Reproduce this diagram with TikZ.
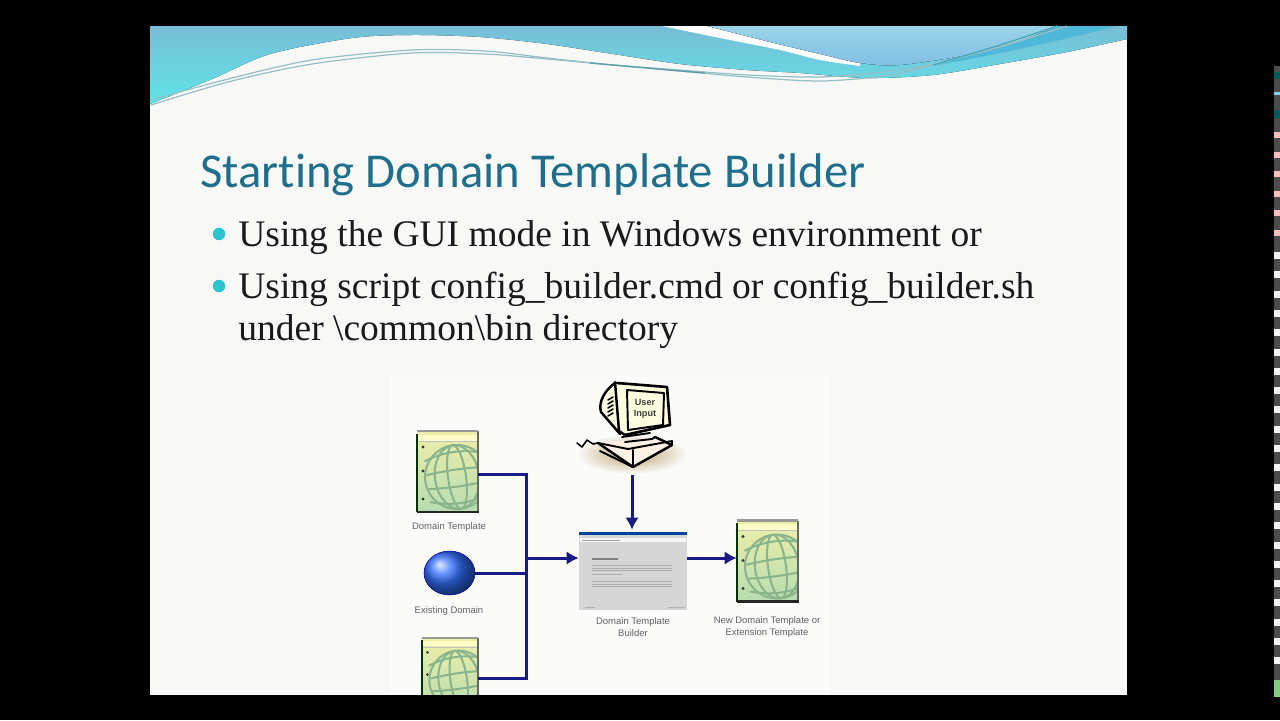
\documentclass[tikz,border=0pt]{standalone}
\usepackage{fontspec}
\usetikzlibrary{arrows.meta,shapes.geometric}
\setmainfont{Liberation Serif}
\newfontfamily\titlefont[RawFeature=-liga]{Carlito}
\newfontfamily\labelfont{Liberation Sans}
\definecolor{slidebg}{HTML}{F8F9F7}
\definecolor{wirenavy}{HTML}{1A1A86}
\definecolor{titleteal}{HTML}{1F6E8C}
\definecolor{bulletcyan}{HTML}{2CC4D0}
\definecolor{bodyink}{HTML}{1A1A1A}
\definecolor{globegreen}{HTML}{8AB48C}
\definecolor{bannertop}{HTML}{78BED6}
\definecolor{bannerlow}{HTML}{5FE4EA}
\definecolor{skytop}{HTML}{9AD4E8}
\definecolor{skylow}{HTML}{80BEE4}
\definecolor{bandblue}{HTML}{4FB8D8}
\definecolor{threadpale}{HTML}{96BEC6}
\definecolor{threaddark}{HTML}{5A9CA8}
\definecolor{threadteal}{HTML}{3AA6B8}
\definecolor{pageyellow}{HTML}{EEEFA8}
\definecolor{pagegreen}{HTML}{B6DCB2}
\definecolor{shadowtan}{HTML}{BDA270}
\tikzset{
  titletext/.style={anchor=base west,inner sep=0,text=titleteal,font=\titlefont\fontsize{27.7}{32}\selectfont},
  bodytext/.style={anchor=base west,inner sep=0,text=bodyink,font=\fontsize{21.35}{25}\selectfont},
  smalltext/.style={inner sep=0,align=center,text=black!62,font=\labelfont\fontsize{5.4}{6.8}\selectfont},
  bulletdot/.style={circle,fill=bulletcyan,inner sep=0,minimum size=0.25cm},
  wire/.style={draw=wirenavy,line width=1.7pt},
  wirearrow/.style={wire,-{Latex[length=0.24cm,width=0.27cm]}},
  sketch/.style={black,line width=1.1pt,line cap=round,line join=round},
  thread/.style={draw=threadpale,line width=0.7pt},
}
% page with globe, centre at #2,#3, scaled by #4
\newcommand{\globedoc}[4]{%
  \node[inner sep=0,minimum width=#4*1.22cm,minimum height=#4*1.62cm,top color=pageyellow,bottom color=pagegreen] (#1) at (#2,#3) {};
  \begin{scope}[shift={(#2,#3)},scale=#4]
    \fill[yellow!22!white] (-30.5,-37) rectangle (30.5,-31);
    \draw[black!25,line width=0.4pt] (-30.5,-30.5)--(30.5,-30.5);
    \begin{scope}
      \clip (-30.5,-40.5) rectangle (30.5,40.5);
      \begin{scope}[shift={(9.5,5.5)},rotate=8,globegreen,line width=1.15pt]
        \draw (0,0) circle (32);
        \draw (0,0) ellipse (22 and 32);
        \draw (0,0) ellipse (9 and 32);
        \foreach \yy/\bend in {-20/-7,-6/-2,8/2,21/7}
          \draw (-30,\yy) .. controls (-10,\yy+\bend) and (10,\yy+\bend) .. (30,\yy);
      \end{scope}
    \end{scope}
    \foreach \yy in {-24.5,-0.5,27.5}
      \fill[black!80] (-24.5,\yy) circle (1.6);
    \draw[black!80!green,line width=1.1pt] (-30.5,-38)--(-30.5,40.5);
    \draw[black!60,line width=0.9pt] (30.5,40.5)--(30.5,-40.5);
    \draw[black!40,line width=1.2pt] (-30.5,-40.5)--(30.5,-40.5);
    \draw[black!85,line width=1.5pt] (-31,40.5)--(31,40.5);
  \end{scope}}

\begin{document}
\begin{tikzpicture}[x=0.02cm,y=-0.02cm]
  \useasboundingbox (0,0) rectangle (1280,720);
  \fill[black] (0,0) rectangle (1280,720);
  \fill[slidebg] (150,26) rectangle (1127,695);
  \fill[white!40!slidebg] (390,375) rectangle (830,695);

  % banner
  \fill[top color=bannertop,bottom color=bannerlow]
    (150,26) -- (150,104) -- plot[smooth] coordinates {(150,104) (212,79) (270,54) (352,38) (412,35) (480,37) (547,44) (613,54) (680,64) (747,70) (800,73) (867,78) (933,75) (1000,64) (1067,52) (1127,39)} -- (1127,26) -- cycle;
  \fill[white] plot[smooth] coordinates {(662,26) (720,38) (780,50) (820,60) (860,66)} -- plot[smooth] coordinates {(860,63) (820,54) (770,42) (707,26)} -- cycle;
  \fill[top color=skytop,bottom color=skylow]
    (707,26) -- plot[smooth] coordinates {(707,26) (770,42) (820,54) (860,63) (900,65) (967,55) (1017,42) (1057,26)} -- cycle;
  \fill[bandblue] plot[smooth] coordinates {(933,66) (1000,53) (1060,40) (1117,26)} -- (1060,26) -- plot[smooth] coordinates {(1060,26) (1017,42) (967,56) (933,66)} -- cycle;
  \draw[thread] plot[smooth] coordinates {(151,105) (228,82) (312,64) (412,53) (485,54) (547,59) (613,65) (680,71) (747,77) (820,81) (883,76) (933,65) (1000,45) (1057,26)};
  \draw[thread] plot[smooth] coordinates {(151,100) (228,79) (312,60) (412,50) (485,51) (547,58) (613,65) (680,70) (747,75) (820,77) (883,72) (933,64) (1000,47) (1067,26)};
  \draw[threaddark,line width=0.7pt] plot[smooth] coordinates {(590,63) (613,65) (680,71) (705,73)};
  \draw[threadteal,line width=0.6pt] plot[smooth] coordinates {(933,65) (1000,45) (1057,26)};

  % text
  \node[titletext] (title) at (200,187) {Starting Domain Template Builder};
  \node[bulletdot] (dotA) at (219,234) {};
  \node[bulletdot] (dotB) at (219,286) {};
  \node[bodytext] (lineA) at (238,246) {Using the GUI mode in Windows environment or};
  \node[bodytext] (lineB) at (238,298) {Using script config\_builder.cmd or config\_builder.sh};
  \node[bodytext] (lineC) at (238,340) {under \textbackslash common\textbackslash bin directory};

  % computer
  \shade[inner color=shadowtan,outer color=white!40!slidebg] (632,454) ellipse (56 and 20);
  \node[inner sep=0,minimum width=2.06cm,minimum height=1.9cm] (computer) at (632,427.5) {};
  \fill[yellow!12!white] (615,383) -- (667,387) -- (670,425) -- (625,435) -- (603,418) -- (600,408) -- (603,395) -- cycle;
  \fill[orange!10!white] (598,443) -- (655,437) -- (672,445) -- (633,467) -- cycle;
  \draw[sketch,line width=1.4pt] (615,382) -- (619,431) -- (625,435) (615,383) .. controls (605,390) and (598,402) .. (601,412) -- (620,434);
  \draw[sketch,line width=1.5pt] (617,383) -- (667,387) -- (670,425) -- (625,435);
  \draw[sketch] (627,390) -- (664,393) -- (663,425) -- (628,430) -- cycle;
  \foreach \yy in {400,404,408,412,416}
    \draw[sketch,line width=0.9pt] (608,\yy) -- (613,\yy-3);
  \draw[sketch] (622,437) -- (650,433) (625,442) -- (652,439) -- (655,437);
  \draw[sketch,line width=1.4pt] (598,443) -- (633,467) -- (672,445) -- (655,437);
  \draw[sketch] (598,443) -- (628,449) -- (672,441) -- (672,445) (600,451) -- (633,467) -- (633,450);
  \draw[sketch,line width=0.9pt] (577,443) -- (582,447) -- (587,440) -- (593,444) -- (598,443);
  \node[inner sep=0,align=center,text=black!75,font=\labelfont\bfseries\fontsize{5.2}{6.2}\selectfont] (userinput) at (645,408.5) {User\\Input};

  % builder window
  \node[inner sep=0,minimum width=2.16cm,minimum height=1.56cm,fill=gray!32!white] (builder) at (633,571) {};
  \fill[blue!55!cyan!60!black] (579,532) rectangle (687,535);
  \fill[white!92!gray] (580,537.5) rectangle (686,542);
  \fill[black!35] (582,539.5) rectangle (620,540.5);
  \fill[black!50] (592,558) rectangle (618,559.5);
  \foreach \yy in {565,567.5,570,581,583.5,586}
    \fill[black!32] (592,\yy) rectangle (672,\yy+1.2);
  \fill[black!32] (592,574) rectangle (622,575.2);
  \fill[black!30] (585,607) rectangle (595,608) (668,607) rectangle (685,608);
  \node[smalltext] (builderlabel) at (633,627) {Domain Template\\Builder};

  % templates
  \globedoc{domaintmpl}{447.5}{471.5}{1}
  \globedoc{thirdtmpl}{450}{675}{0.92}
  \globedoc{newtmpl}{767.5}{561}{1}
  \node[smalltext] (domainlabel) at (449,527) {Domain Template};
  \node[smalltext] (newlabel) at (767,627) {New Domain Template or\\Extension Template};

  % existing domain
  \node[ellipse,inner sep=0,minimum width=1.02cm,minimum height=0.88cm,ball color=blue!70!cyan!80!white,draw=blue!70!black,line width=0.3pt] (existdom) at (449.5,573) {};
  \node[smalltext] (existlabel) at (449,611) {Existing Domain};

  % connectors
  \coordinate (bus) at (526,558);
  \draw[wire] ([yshift=-0.05cm]domaintmpl.east) -| (bus);
  \draw[wire] (existdom.east) -| (bus);
  \draw[wire] ([yshift=-0.06cm]thirdtmpl.east) -| (bus);
  \draw[wirearrow] (bus) -- (bus -| builder.west);
  \draw[wirearrow] (bus -| builder.east) -- (bus -| newtmpl.west);
  \draw[wirearrow,shorten >=0.04cm] (computer.south) -- (computer.south |- builder.north);

  % bottom bar and side strip
  \fill[black] (0,695) rectangle (1280,720);
  \fill[black!70] (1274,66) rectangle (1280,697);
  \fill[teal!70!black] (1274,72) rectangle (1280,79) (1274,110) rectangle (1280,118);
  \fill[cyan!50!white] (1274,92) rectangle (1280,95);
  \foreach \yy in {132,151.5,171,190.5,210,229.5}
    \fill[pink] (1274,\yy) rectangle (1280,\yy+6);
  \foreach \nn in {0,...,21}
    \fill[white!90!gray] (1274,252+\nn*19.3) rectangle (1280,259+\nn*19.3);
  \fill[green!40!gray!70!white] (1274,680) rectangle (1280,697);
\end{tikzpicture}
\end{document}
